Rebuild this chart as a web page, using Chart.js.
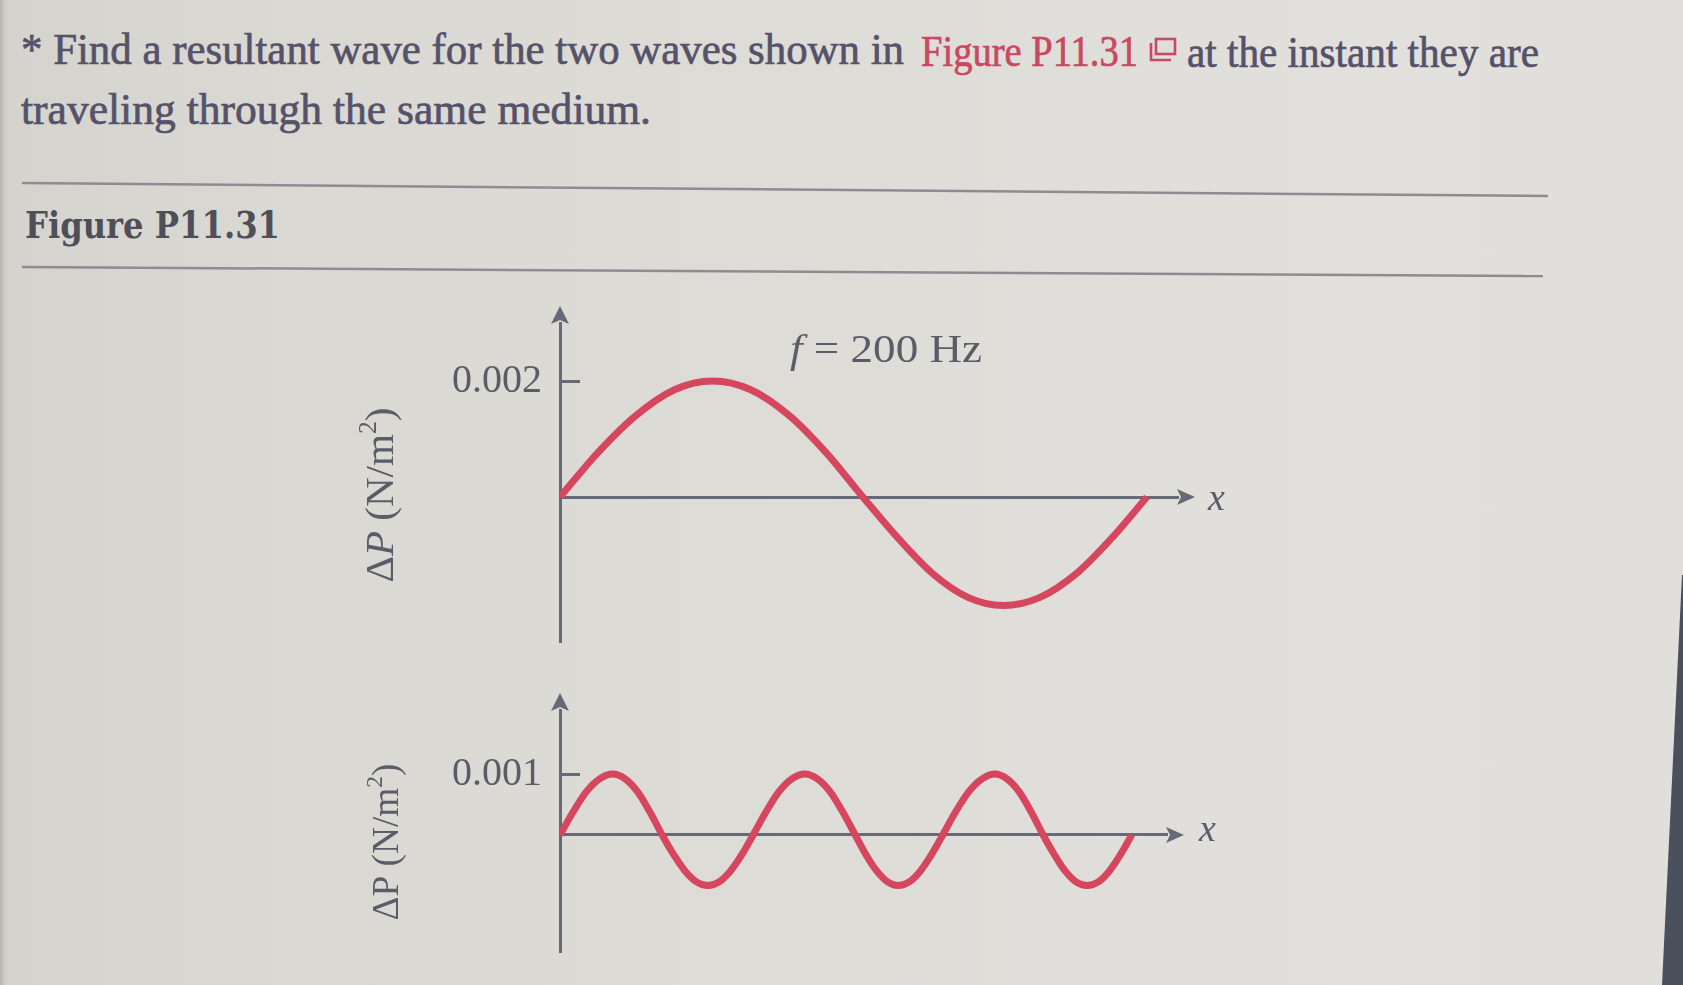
<!DOCTYPE html>
<html>
<head>
<meta charset="utf-8">
<script src="https://cdn.jsdelivr.net/npm/chart.js@4.4.1/dist/chart.umd.min.js"></script>
<style>
  html, body { margin: 0; padding: 0; }
  body {
    width: 1683px; height: 985px; overflow: hidden; position: relative;
    background: linear-gradient(90deg, #d5d3ce 0px, #dad8d3 260px, #dedcd7 800px, #e2e0dc 1350px, #e1dfdb 1680px);
  }
  #page { position: absolute; left: 0; top: 0; }
  canvas { position: absolute; }
</style>
</head>
<body>
<svg id="page" width="1683" height="985" xmlns="http://www.w3.org/2000/svg">
  <defs>
    <linearGradient id="edge" x1="0" x2="1" y1="0" y2="0">
      <stop offset="0" stop-color="#b3b1ad"/>
      <stop offset="1" stop-color="#d5d3ce" stop-opacity="0"/>
    </linearGradient>
  </defs>
  <rect x="0" y="0" width="9" height="985" fill="url(#edge)"/>
  <polygon points="1682,575 1683,575 1683,985 1662,985" fill="#4a505c"/>

  <g font-family="Liberation Serif, serif" font-size="45" fill="#55526a" stroke="#55526a" stroke-width="0.7">
    <text x="21" y="64" textLength="883" lengthAdjust="spacingAndGlyphs">* Find a resultant wave for the two waves shown in</text>
    <text x="921" y="66" textLength="217" lengthAdjust="spacingAndGlyphs" fill="#c94862" stroke="#c94862">Figure P11.31</text>
    <text x="1187" y="67" textLength="352" lengthAdjust="spacingAndGlyphs">at the instant they are</text>
    <text x="21" y="124" textLength="630" lengthAdjust="spacingAndGlyphs">traveling through the same medium.</text>
  </g>
  <!-- small link icon after the figure reference -->
  <g fill="none" stroke="#c94862" stroke-width="2.6">
    <rect x="1156" y="39" width="19" height="15"/>
    <polyline points="1151,43 1151,60 1171,60"/>
  </g>

  <line x1="22" y1="183" x2="1548" y2="196" stroke="#8e8b93" stroke-width="2.5"/>
  <text x="25" y="238" textLength="255" lengthAdjust="spacingAndGlyphs"
        font-family="DejaVu Serif Condensed, DejaVu Serif, serif" font-weight="bold" font-size="37" fill="#4f4f5a">Figure P11.31</text>
  <line x1="22" y1="267" x2="1543" y2="276" stroke="#8e8b93" stroke-width="2.5"/>
</svg>

<canvas id="wave1" width="900" height="370" style="left:340px; top:290px;"></canvas>
<canvas id="wave2" width="900" height="290" style="left:340px; top:680px;"></canvas>

<script>
// wave 1 (f = 200 Hz): position along x (arbitrary units) and pressure change (N/m^2)
const wave1X = [0, 6.5, 13, 19.5, 26, 32.5, 39, 45.3, 51.6, 57.6, 63.5, 69.5, 75.5, 81.8, 88, 94, 100];
const wave1P = [0, 0.00077, 0.00141, 0.00185, 0.002, 0.00185, 0.00141, 0.00077, 0,
                -0.00071, -0.00132, -0.00173, -0.00187, -0.00173, -0.00132, -0.00071, 0];
const wave1Ticks = [0.002];

// wave 2: three cycles over the same stretch of x
const wave2X = [0, 2.25, 4.5, 6.75, 9.0, 11.1, 13.2, 15.3, 17.4, 19.35, 21.3, 23.25, 25.2,
                27.1, 29.05, 31.0, 32.9, 35.1, 37.3, 39.5, 41.7, 43.85, 46.0, 48.15, 50.3,
                52.1, 53.95, 55.8, 57.6, 59.5, 61.4, 63.3, 65.2, 67.4, 69.65, 71.9, 74.1,
                76.15, 78.2, 80.25, 82.3, 84.2, 86.05, 87.9, 89.8, 91.7, 93.6, 95.5, 97.4];
const wave2P = [0, 0.00038, 0.00071, 0.00092, 0.001, 0.00092, 0.00071, 0.00038, 0,
                -0.00032, -0.00059, -0.00077, -0.00083, -0.00077, -0.00059, -0.00032, 0,
                0.00038, 0.00071, 0.00092, 0.001, 0.00092, 0.00071, 0.00038, 0,
                -0.00032, -0.00059, -0.00077, -0.00083, -0.00077, -0.00059, -0.00032, 0,
                0.00038, 0.00071, 0.00092, 0.001, 0.00092, 0.00071, 0.00038, 0,
                -0.00032, -0.00059, -0.00077, -0.00083, -0.00077, -0.00059, -0.00032, 0];
const wave2Ticks = [0.001];

const waveNote = 'f = 200 Hz';

const RED = '#d6465e';
const AXIS = '#666976';
const INK = '#5a5c68';
const SERIF = 'Liberation Serif';

// draws arrows, inward ticks, the x label, the rotated y title and the frequency note
const waveDecor = {
  id: 'waveDecor',
  afterDraw(chart, args, o) {
    const ctx = chart.ctx;
    const area = chart.chartArea;
    const ys = chart.scales.y;
    const xs = chart.scales.x;
    const y0 = ys.getPixelForValue(0);
    const left = area.left;
    ctx.save();
    ctx.fillStyle = AXIS;
    ctx.strokeStyle = AXIS;

    // arrow on top of the y axis
    ctx.beginPath();
    ctx.moveTo(left, area.top - 17);
    ctx.lineTo(left + 9, area.top + 1);
    ctx.lineTo(left, area.top - 3);
    ctx.lineTo(left - 9, area.top + 1);
    ctx.closePath();
    ctx.fill();

    // arrow at the end of the x axis
    const right = area.right;
    ctx.beginPath();
    ctx.moveTo(right + 17, y0);
    ctx.lineTo(right - 1, y0 - 8);
    ctx.lineTo(right + 3, y0);
    ctx.lineTo(right - 1, y0 + 8);
    ctx.closePath();
    ctx.fill();

    // tick marks pointing into the plot
    ctx.lineWidth = 3;
    ys.ticks.forEach(t => {
      const py = Math.round(ys.getPixelForValue(t.value)) + 0.5;
      ctx.beginPath();
      ctx.moveTo(left, py);
      ctx.lineTo(left + 20, py);
      ctx.stroke();
    });

    ctx.fillStyle = INK;
    ctx.textBaseline = 'middle';
    ctx.textAlign = 'left';
    ctx.font = 'italic 38px ' + SERIF;
    ctx.fillText('x', right + 17 + o.xGap, y0 + o.xDy);

    // y title, rotated, with italic P when asked
    const size = o.titleSize;
    const parts = [
      { t: 'Δ', f: size + 'px ' + SERIF },
      { t: 'P', f: (o.italicP ? 'italic ' : '') + size + 'px ' + SERIF },
      { t: ' (N/m', f: size + 'px ' + SERIF },
      { t: '2', f: Math.round(size * 0.62) + 'px ' + SERIF, up: size * 0.42 },
      { t: ')', f: size + 'px ' + SERIF }
    ];
    let total = 0;
    parts.forEach(p => { ctx.font = p.f; p.w = ctx.measureText(p.t).width; total += p.w; });
    ctx.translate(o.titleX, y0 + o.titleDy);
    ctx.rotate(-Math.PI / 2);
    ctx.scale(o.titleLen / total, 1);
    ctx.textBaseline = 'alphabetic';
    let cx = -total / 2;
    parts.forEach(p => {
      ctx.font = p.f;
      ctx.fillText(p.t, cx, size * 0.33 - (p.up || 0));
      cx += p.w;
    });
    ctx.setTransform(1, 0, 0, 1, 0, 0);

    if (o.note) {
      const nx = xs.getPixelForValue(o.note.x);
      const ny = ys.getPixelForValue(o.note.y);
      ctx.textBaseline = 'alphabetic';
      ctx.font = 'italic 40px ' + SERIF;
      const fw = ctx.measureText('f').width;
      ctx.font = '40px ' + SERIF;
      const rest = o.note.text.slice(1);
      const rw = ctx.measureText(rest).width;
      ctx.translate(nx, ny);
      ctx.scale(o.note.len / (fw + rw), 1);
      ctx.font = 'italic 40px ' + SERIF;
      ctx.fillText('f', 0, 0);
      ctx.font = '40px ' + SERIF;
      ctx.fillText(rest, fw, 0);
    }
    ctx.restore();
  }
};

function makeWaveChart(id, xsData, psData, ticks, cfg) {
  return new Chart(document.getElementById(id), {
    type: 'line',
    data: {
      datasets: [{
        data: xsData.map((x, i) => ({ x: x, y: psData[i] })),
        borderColor: RED,
        borderWidth: 7,
        borderCapStyle: 'butt',
        pointRadius: 0,
        fill: false,
        cubicInterpolationMode: 'monotone'
      }]
    },
    options: {
      responsive: false,
      animation: false,
      events: [],
      layout: { padding: cfg.padding },
      plugins: {
        legend: { display: false },
        tooltip: { enabled: false },
        waveDecor: cfg.decor
      },
      scales: {
        x: {
          type: 'linear',
          min: 0,
          max: cfg.xMax,
          position: { y: 0 },
          ticks: { display: false },
          grid: { display: false, drawTicks: false },
          border: { display: true, color: AXIS, width: 3 },
          afterFit(s) { s.height = 0; s.paddingLeft = 0; s.paddingRight = 0; }
        },
        y: {
          type: 'linear',
          min: cfg.yMin,
          max: cfg.yMax,
          afterBuildTicks(s) { s.ticks = ticks.map(v => ({ value: v })); },
          ticks: {
            color: INK,
            padding: 18,
            font: { family: SERIF, size: 40 },
            callback: v => v.toFixed(3)
          },
          grid: { display: false, drawTicks: false },
          border: { display: true, color: AXIS, width: 3 },
          afterFit(s) { s.width = 220; s.paddingTop = 0; s.paddingBottom = 0; }
        }
      }
    },
    plugins: [waveDecor]
  });
}

makeWaveChart('wave1', wave1X, wave1P, wave1Ticks, {
  xMax: 105.3, yMin: -0.0025, yMax: 0.0030,
  padding: { left: 0, top: 33, right: 62, bottom: 18 },
  decor: {
    xGap: 13, xDy: 3,
    titleX: 40, titleDy: -2, titleLen: 175, titleSize: 40, italicP: true,
    note: { text: waveNote, x: 39.2, y: 0.00233, len: 192 }
  }
});

makeWaveChart('wave2', wave2X, wave2P, wave2Ticks, {
  xMax: 103.4, yMin: -0.00192, yMax: 0.00205,
  padding: { left: 0, top: 30, right: 73, bottom: 18 },
  decor: {
    xGap: 15, xDy: -4,
    titleX: 45, titleDy: 7, titleLen: 157, titleSize: 38, italicP: false
  }
});
</script>
</body>
</html>
